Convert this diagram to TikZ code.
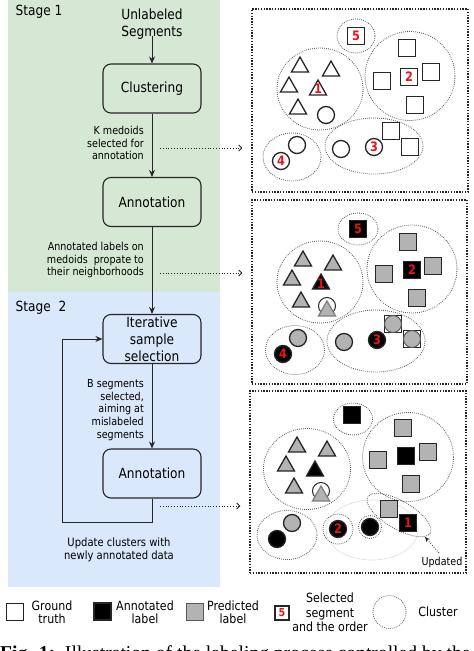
\documentclass[tikz,border=0pt]{standalone}
\usepackage{fontspec}
\setmainfont{DejaVu Sans}[FakeStretch=0.87]
\newfontfamily\capfont{Liberation Serif}
\usetikzlibrary{arrows.meta,calc}
\definecolor{stgreen}{HTML}{D5E8D4}
\definecolor{stblue}{HTML}{DAE8FC}
\definecolor{predgray}{HTML}{B3B3B3}
\definecolor{numred}{HTML}{E8141B}
\definecolor{ink}{HTML}{262626}
\definecolor{clugray}{HTML}{555555}
\tikzset{
  box/.style={draw=ink, line width=1.1pt, rounded corners=8pt, minimum width=98pt, minimum height=49pt, align=center, font=\fontsize{14}{17}\selectfont, inner sep=0pt},
  flow/.style={-{Stealth[length=7pt,width=6pt]}, line width=0.9pt, draw=ink},
  lbl/.style={align=right, anchor=east, font=\fontsize{11}{12.8}\selectfont, inner sep=0pt},
  link/.style={draw=ink, line width=0.8pt, dash pattern=on 0.8pt off 2pt, -{Straight Barb[length=3pt,width=6pt]}, shorten >=9pt},
  panel/.style={draw=ink, line width=1.4pt, dash pattern=on 1.4pt off 1.4pt, inner sep=0pt},
  clu/.style={draw=clugray, line width=0.8pt, dash pattern=on 0.8pt off 1.2pt},
  shp/.style={draw=ink, line width=1.3pt},
  num/.style={text=numred, font=\bfseries\fontsize{13}{13}\selectfont, inner sep=0pt},
  txt/.style={align=center, inner sep=0pt},
  tri/.pic={\path[pic actions] (-8.5,7) -- (8.5,7) -- (0,-8) -- cycle;},
  sqr/.pic={\path[pic actions] (-8.5,-8.5) rectangle (8.5,8.5);},
  cir/.pic={\path[pic actions] (0,0) circle[radius=8.5];},
}
\begin{document}
\begin{tikzpicture}[x=1pt,y=-1pt]
\useasboundingbox (0,0) rectangle (474,651);
% stage backgrounds
\fill[stgreen] (8,0) rectangle (220,292);
\fill[stblue] (8,292) rectangle (220,587);
\node[txt, font=\fontsize{14}{17}\selectfont] (s1) at (39,12) {Stage 1};
\node[txt, font=\fontsize{14}{17}\selectfont] (s2) at (41,308) {Stage~~2};
% flow
\node[txt, font=\fontsize{14}{16.5}\selectfont] (unl) at (152,24) {Unlabeled\\Segments};
\node[box] (clus) at (152,88.5) {Clustering};
\node[box] (ann1) at (152,202) {Annotation};
\node[box] (iter) at (152,339) {Iterative\\sample\\selection};
\node[box] (ann2) at (152,473.5) {Annotation};
\draw[flow] (unl.south) ++(0,-3) coordinate (u0) -- (clus.north);
\draw[flow] (clus) -- (ann1);
\draw[flow] (ann1) -- (iter);
\draw[flow] (iter) -- (ann2);
\coordinate (lb) at (62,522);
\draw[flow] (ann2.south) |- (lb) |- (iter.west);
\node[lbl] (l1) at (144,143) {K medoids\\selected for\\annotation};
\node[lbl] (l2) at (144,260) {Annotated labels on\\medoids~~propate to\\their neighborhoods};
\node[lbl] (l3) at (144,410) {B segments\\selected,\\aiming at\\mislabeled\\segments};
\node[txt, font=\fontsize{11.5}{13.5}\selectfont] (upc) at (119,550) {Update clusters with\\newly annotated data};
% panels
\node[panel, minimum width=216pt, minimum height=183pt] (p1) at (360,100.5) {};
\node[panel, minimum width=215pt, minimum height=184pt] (p2) at (359.5,292) {};
\node[panel, minimum width=216pt, minimum height=182pt] (p3) at (358,482) {};
\coordinate (d1) at (160,148);
\coordinate (d2) at (160,273);
\coordinate (d3) at (160,506);
\draw[link] (d1) -- (d1 -| p1.west);
\draw[link] (d2) -- (d2 -| p2.west);
\draw[link] (d3) -- (d3 -| p3.west);
% ---------- panel 1
\draw[clu] (356,36) ellipse[x radius=19, y radius=17];
\draw[clu] (320,89) ellipse[x radius=43, y radius=41];
\draw[clu] (410,76) ellipse[x radius=45, y radius=44.5];
\draw[clu] (374,146) ellipse[x radius=49, y radius=28];
\draw[clu] (292,157) ellipse[x radius=29, y radius=24];
\foreach \p in {(300,65),(331,69),(289,85),(318,88),(298,107)} \pic[shp, fill=white] at \p {tri};
\foreach \p in {(326,115),(341,149),(374,147),(297,145),(281,161)} \pic[shp, fill=white] at \p {cir};
\foreach \p in {(407,48),(431,72),(382,81),(409,77),(415,105),(391,131),(410,147),(356,36)} \pic[shp, fill=white] at \p {sqr};
\node[num] (a1) at (318,89) {1};
\node[num] (a2) at (409,77) {2};
\node[num] (a3) at (374,147) {3};
\node[num] (a4) at (281,161) {4};
\node[num] (a5) at (356,36) {5};
% ---------- panel 2
\draw[clu] (358,229) ellipse[x radius=20, y radius=16];
\draw[clu] (320,282) ellipse[x radius=43, y radius=41];
\draw[clu] (412,269) ellipse[x radius=45, y radius=44];
\draw[clu] (376,341) ellipse[x radius=49, y radius=31];
\draw[clu] (295,350) ellipse[x radius=29.5, y radius=24.5];
\foreach \p in {(303,259),(333,263),(292,278),(301,300)} \pic[shp, fill=predgray] at \p {tri};
\pic[shp, fill=black] at (321,282) {tri};
\pic[draw=ink, line width=1pt] at (327,306) {cir};
\pic[draw=gray, line width=1.3pt, fill=predgray] at (327,309) {tri};
\foreach \p in {(408,242),(433,266),(384,274),(417,298)} \pic[shp, fill=predgray] at \p {sqr};
\pic[shp, fill=black] at (412,270) {sqr};
\pic[shp, fill=black] at (358,229) {sqr};
\foreach \p in {(393,324),(412,339)} {\pic[shp, fill=white] at \p {sqr}; \pic[draw=gray!70!black, line width=1pt, fill=predgray] at \p {cir};}
\foreach \p in {(344,342),(298,338)} \pic[shp, fill=predgray] at \p {cir};
\foreach \p in {(377,340),(283,354)} \pic[shp, fill=black] at \p {cir};
\node[num] (b1) at (321,284) {1};
\node[num] (b2) at (412,270) {2};
\node[num] (b3) at (377,340) {3};
\node[num] (b4) at (283,354) {4};
\node[num] (b5) at (358,229) {5};
% ---------- panel 3
\draw[clu] (353,419) ellipse[x radius=19.5, y radius=16];
\draw[clu] (307,469) ellipse[x radius=43.5, y radius=40.5];
\draw[clu] (408,457) ellipse[x radius=45.5, y radius=44.5];
\draw[gray!20, line width=0.8pt] (372,530) ellipse[x radius=46, y radius=30];
\draw[clu] (287,535) ellipse[x radius=30, y radius=24.5];
\draw[clu] (338,529) circle[radius=15];
\draw[clu] (370,527) circle[radius=11.5];
\draw[clu, rotate around={-30:(399,515)}] (399,515) ellipse[x radius=36, y radius=14];
\foreach \p in {(297,445),(327,449),(286,464),(294,486)} \pic[shp, fill=predgray] at \p {tri};
\pic[shp, fill=black] at (315,469) {tri};
\pic[draw=ink, line width=1pt] at (321,491) {cir};
\pic[draw=gray, line width=1.3pt, fill=predgray] at (321,494) {tri};
\foreach \p in {(403,428),(428,452),(378,460),(411,484),(389,509)} \pic[shp, fill=predgray] at \p {sqr};
\foreach \p in {(406,456),(352,415),(408,523)} \pic[shp, fill=black] at \p {sqr};
\pic[shp, fill=predgray] at (292,523) {cir};
\foreach \p in {(277,539),(338,529),(370,527)} \pic[shp, fill=black] at \p {cir};
\node[num] (c1) at (408,523) {1};
\node[num] (c2) at (338,529) {2};
\node[txt, font=\fontsize{11}{13}\selectfont] (upd) at (442,562) {Updated};
\coordinate (ue) at (425,537);
\draw[draw=ink, line width=0.8pt, dash pattern=on 0.8pt off 1.6pt, -{Stealth[length=5pt,width=4.5pt]}] (439,553) -- (ue);
% ---------- legend
\node[shp, fill=white, minimum size=17pt, inner sep=0pt] (lg1) at (15,612) {};
\node[txt, font=\fontsize{12.7}{13.5}\selectfont] (lt1) at (52,612.5) {Ground\\truth};
\node[shp, fill=black, minimum size=17pt, inner sep=0pt] (lg2) at (102.5,611.5) {};
\node[txt, font=\fontsize{12.7}{13.5}\selectfont] (lt2) at (145,612.5) {Annotated\\label};
\node[shp, draw=gray!70!black, fill=predgray, minimum size=17pt, inner sep=0pt] (lg3) at (195,612) {};
\node[txt, font=\fontsize{12.7}{13.5}\selectfont] (lt3) at (233,612.5) {Predicted\\label};
\node[draw=ink, line width=1.1pt, fill=white, minimum size=14pt, inner sep=0pt, text=numred, font=\bfseries\fontsize{11}{11}\selectfont] (lg4) at (282,613) {5};
\node[txt, font=\fontsize{12.7}{14.5}\selectfont] (lt4) at (330,612.5) {Selected\\segment\\and the order};
\node[clu, circle, minimum size=33pt, inner sep=0pt] (lg5) at (389.5,612) {};
\node[txt, font=\fontsize{12.7}{13.5}\selectfont] (lt5) at (438,612) {Cluster};
% caption (cut off by the page edge, as in the reference)
\node[anchor=base west, inner sep=0pt, font=\capfont\fontsize{19.6}{19.6}\selectfont] (cap) at (0,659) {\textbf{Fig. 1:}~~Illustration of the labeling process controlled by the};
\end{tikzpicture}
\end{document}
